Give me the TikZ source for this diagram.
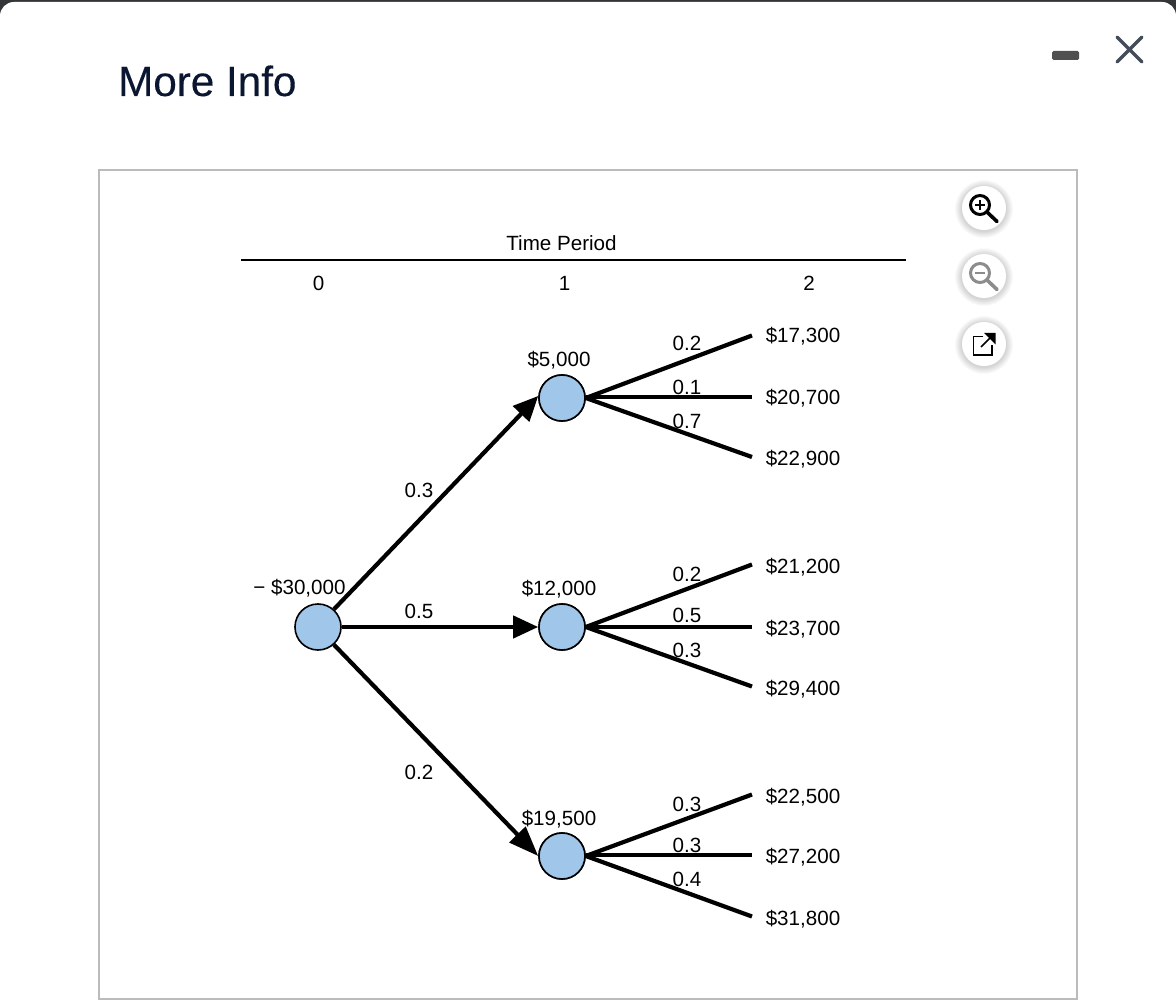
\documentclass[tikz,border=0pt]{standalone}
\usepackage{fontspec}
\setmainfont{Liberation Sans}
\usetikzlibrary{arrows.meta,calc}
\definecolor{nodeblue}{HTML}{A0C6EA}
\definecolor{titleink}{HTML}{0B1730}
\definecolor{panelgray}{HTML}{BBBBBB}
\definecolor{topbar}{HTML}{333538}
\definecolor{closeink}{HTML}{434C58}
\definecolor{minusink}{HTML}{505050}
\tikzset{
  x=1pt,y=-1pt,
  statenode/.style={circle,draw=black,line width=1.6pt,fill=nodeblue,minimum size=46pt,inner sep=0pt},
  branch/.style={draw=black,line width=4.2pt},
  arrowbranch/.style={branch,-{Triangle[length=25pt,width=22pt]}},
  longarrow/.style={branch,-{Triangle[length=30pt,width=22pt]}},
  lbl/.style={font=\fontsize{20.6}{24}\selectfont,text=black,inner sep=0pt,anchor=base},
  iconbtn/.style={circle,fill=white,minimum size=44pt,inner sep=0pt},
}
\newcommand{\btnshadow}[2]{%
  \foreach \r in {29,28,27,26,25,24,23}{
    \fill[black,opacity=.024] (#1,#2+1) circle (\r);}}
\begin{document}
\begin{tikzpicture}
\useasboundingbox (0,0) rectangle (1176,1000);
\fill[topbar] (0,0) rectangle (1176,14);
\fill[white,rounded corners=14pt] (0,2) rectangle (1176,1040);
\node[anchor=base west,inner sep=0pt,text=titleink,font=\fontsize{42.2}{48}\selectfont\addfontfeature{FakeBold=0.25}] (title) at (118,96) {More Info};
% window controls
\fill[minusink,rounded corners=1.5pt] (1052,51) rectangle (1079,60);
\draw[closeink,line width=3.4pt,line cap=round] (1117,37) -- (1142,62) (1142,37) -- (1117,62);
% panel
\draw[panelgray,line width=2pt] (99,170) rectangle (1077,999);
% heading
\node[lbl] (tp) at (561.5,251) {Time Period};
\coordinate (ruleL) at (241,260);
\coordinate (ruleR) at (906,260);
\draw[black,line width=1.8pt] (ruleL) -- (ruleR);
\node[lbl] (t0) at (318.5,291) {0};
\node[lbl] (t1) at (564.5,291) {1};
\node[lbl] (t2) at (809,291) {2};
% nodes
\node[statenode] (root) at (318,627) {};
\node[statenode] (a) at (562,398) {};
\node[statenode] (b) at (562,627) {};
\node[statenode] (c) at (562,856) {};
% leaf ends
\coordinate (a1) at (752,335.5);
\coordinate (a2) at (752,397);
\coordinate (a3) at (752,457);
\coordinate (b1) at (752,564.5);
\coordinate (b2) at (752,627);
\coordinate (b3) at (752,686.5);
\coordinate (c1) at (752,794.5);
\coordinate (c2) at (752,855);
\coordinate (c3) at (752,916.5);
% arrows
\draw[arrowbranch] (root.48) -- (a.175);
\draw[arrowbranch] (root.east) -- (b.west);
\draw[longarrow] (root.-48) -- (c.west);
% leaves
\foreach \p in {a,b,c}{
  \draw[branch] (\p.east) -- (\p1);
  \draw[branch] (\p.east |- \p2) -- (\p2);
  \draw[branch] (\p.east) -- (\p3);
}
% redraw discs
\node[statenode] at (a) {};
\node[statenode] at (b) {};
\node[statenode] at (c) {};
% value labels
\node[lbl] (v0) at (299.5,594) {− \$30,000};
\node[lbl] (va) at (559,366.5) {\$5,000};
\node[lbl] (vb) at (559,595) {\$12,000};
\node[lbl] (vc) at (559,825) {\$19,500};
% branch labels
\node[lbl] at (419,497) {0.3};
\node[lbl] at (419,618) {0.5};
\node[lbl] at (419,779) {0.2};
\node[lbl] at (687,350.5) {0.2};
\node[lbl] at (687,395) {0.1};
\node[lbl] at (687,428.5) {0.7};
\node[lbl] at (687,581) {0.2};
\node[lbl] at (687,622) {0.5};
\node[lbl] at (687,657) {0.3};
\node[lbl] at (687,811.5) {0.3};
\node[lbl] at (687,852.5) {0.3};
\node[lbl] at (687,886.5) {0.4};
% payoffs
\node[lbl] at (803,343) {\$17,300};
\node[lbl] at (803,405) {\$20,700};
\node[lbl] at (803,465) {\$22,900};
\node[lbl] at (803,573) {\$21,200};
\node[lbl] at (803,635) {\$23,700};
\node[lbl] at (803,695) {\$29,400};
\node[lbl] at (803,803) {\$22,500};
\node[lbl] at (803,863) {\$27,200};
\node[lbl] at (803,925) {\$31,800};
% icon buttons
\btnshadow{984}{208}
\node[iconbtn] (zin) at (984,208) {};
\draw[black,line width=3pt] (980,205) circle (9.5);
\draw[black,line width=3.6pt,line cap=round] (987.5,212.5) -- (997,221.5);
\draw[black,line width=1.6pt] (975,205) -- (985,205) (980,200) -- (980,210);
\btnshadow{984}{276}
\node[iconbtn] (zout) at (984,276) {};
\draw[black!45,line width=3pt] (980,273) circle (9.5);
\draw[black!45,line width=3.6pt,line cap=round] (987.5,280.5) -- (997,289.5);
\draw[black!45,line width=1.6pt] (975,273) -- (985,273);
\btnshadow{984}{344}
\node[iconbtn] (pop) at (984,344) {};
\draw[black,line width=1.6pt] (983,336.5) -- (973.5,336.5) -- (973.5,355) -- (992,355) -- (992,345);
\draw[black,line width=1.6pt] (981,347) -- (991,337);
\fill[black] (984,333) -- (995.5,333) -- (995.5,344.5) -- cycle;
\end{tikzpicture}
\end{document}
